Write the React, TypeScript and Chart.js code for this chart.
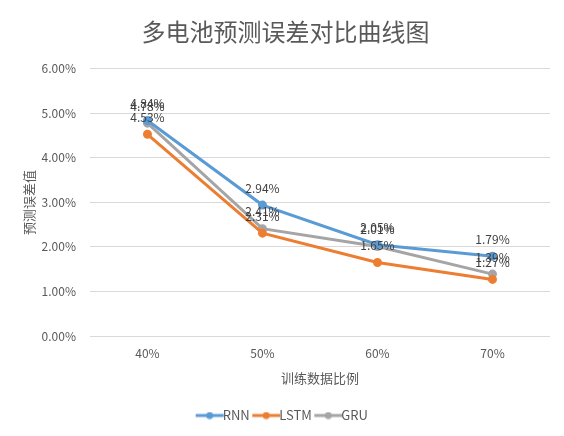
import React, { useEffect, useRef } from 'react'
import { Chart, registerables } from 'chart.js'

Chart.register(...registerables)

const categories = ['40%', '50%', '60%', '70%']
const rnnValues = [4.84, 2.94, 2.05, 1.79]
const lstmValues = [4.53, 2.31, 1.65, 1.27]
const gruValues = [4.78, 2.41, 2.01, 1.39]
const seriesNames = ['RNN', 'LSTM', 'GRU']
const seriesColors = ['#5B9BD5', '#ED7D31', '#A5A5A5']

const FONT = '"Noto Sans CJK SC", "Microsoft YaHei", sans-serif'

function legendIcon(color: string){
  const c = document.createElement('canvas')
  const dpr = window.devicePixelRatio || 1
  c.width = 30 * dpr
  c.height = 8 * dpr
  c.style.width = '30px'
  c.style.height = '8px'
  const g = c.getContext('2d')!
  g.scale(dpr, dpr)
  g.strokeStyle = color
  g.lineWidth = 3
  g.beginPath()
  g.moveTo(1, 4)
  g.lineTo(29, 4)
  g.stroke()
  g.fillStyle = color
  g.beginPath()
  g.arc(15, 4, 3.5, 0, Math.PI * 2)
  g.fill()
  return c
}

const valueLabels = {
  id: 'valueLabels',
  afterDatasetsDraw(chart: any){
    const ctx = chart.ctx
    ctx.save()
    ctx.font = '12px ' + FONT
    ctx.fillStyle = '#404040'
    ctx.textAlign = 'center'
    ctx.textBaseline = 'middle'
    chart.data.datasets.forEach((ds: any, i: number)=>{
      const meta = chart.getDatasetMeta(i)
      meta.data.forEach((pt: any, j: number)=>{
        ctx.fillText(ds.data[j].toFixed(2) + '%', pt.x, pt.y - 17)
      })
    })
    ctx.restore()
  }
}

export default function App(){
  const canvasRef = useRef<HTMLCanvasElement | null>(null)

  useEffect(()=>{
    document.body.style.margin = '0'
    const el = canvasRef.current
    if(!el) return
    const all = [rnnValues, lstmValues, gruValues]
    const icons = seriesColors.map(legendIcon)

    const chart = new Chart(el, {
      type: 'line',
      data: {
        labels: categories,
        datasets: all.map((d, i)=>({
          label: seriesNames[i],
          data: d,
          borderColor: seriesColors[i],
          backgroundColor: seriesColors[i],
          borderWidth: 3,
          pointRadius: 3,
          pointHoverRadius: 3,
          tension: 0,
          fill: false
        }))
      },
      options: {
        responsive: false,
        animation: false,
        events: [],
        layout: { padding: { left: 21, right: 14, top: 4, bottom: 4 } },
        plugins: {
          tooltip: { enabled: false },
          title: {
            display: true,
            text: '多电池预测误差对比曲线图',
            color: '#595959',
            font: { family: FONT, size: 24, weight: 'normal' },
            padding: { top: 13, bottom: 23 }
          },
          legend: {
            position: 'bottom',
            labels: {
              usePointStyle: true,
              color: '#595959',
              font: { family: FONT, size: 13 },
              padding: 10,
              generateLabels: (ch: any)=> ch.data.datasets.map((ds: any, i: number)=>({
                text: ds.label,
                pointStyle: icons[i],
                fillStyle: seriesColors[i],
                strokeStyle: seriesColors[i],
                lineWidth: 0,
                hidden: false,
                datasetIndex: i,
                fontColor: '#595959'
              }))
            }
          }
        },
        scales: {
          x: {
            offset: true,
            grid: { display: false },
            border: { display: false },
            ticks: { color: '#595959', font: { family: FONT, size: 12 }, padding: 2 },
            title: {
              display: true,
              text: '训练数据比例',
              color: '#595959',
              font: { family: FONT, size: 13 },
              padding: { top: 8, bottom: 13 }
            }
          },
          y: {
            min: 0,
            max: 6,
            ticks: {
              stepSize: 1,
              color: '#595959',
              font: { family: FONT, size: 12 },
              padding: 14,
              callback: (v: any)=> Number(v).toFixed(2) + '%'
            },
            grid: { color: '#d9d9d9', drawTicks: false },
            border: { display: false },
            title: {
              display: true,
              text: '预测误差值',
              color: '#595959',
              font: { family: FONT, size: 13 },
              padding: { top: 0, bottom: -9 }
            }
          }
        }
      },
      plugins: [valueLabels]
    })

    return ()=> chart.destroy()
  }, [])

  return (
    <div style={{ width: 564, height: 436, background: '#fff' }}>
      <canvas ref={canvasRef} width={564} height={436}></canvas>
    </div>
  )
}
